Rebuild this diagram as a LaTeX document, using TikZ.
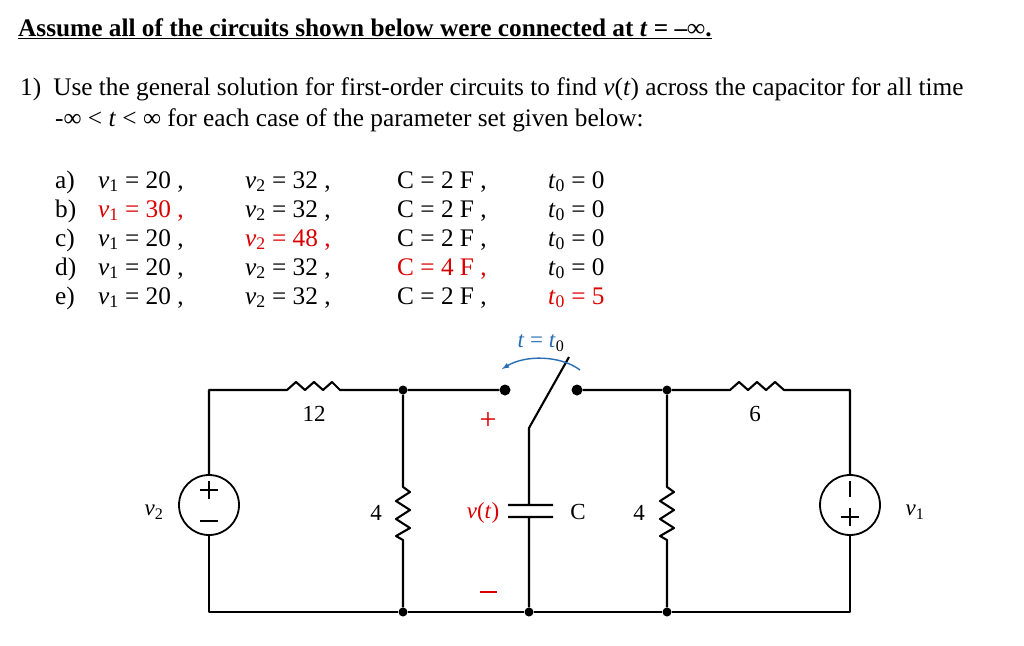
\documentclass[tikz,border=0pt]{standalone}
\usepackage{fontspec}
\setmainfont{Liberation Serif}
\begin{document}
\begin{tikzpicture}[x=1pt,y=-1pt,
  wire/.style={line width=2.1pt,line join=round},
  dotn/.style={circle,fill,inner sep=0pt,minimum size=9pt},
  txt/.style={inner sep=0pt,anchor=base west,font=\fontsize{25.3}{28}\selectfont},
  lab/.style={inner sep=0pt,font=\fontsize{23}{26}\selectfont},
  red/.style={text=red!85!black}]
\useasboundingbox (0,0) rectangle (1024,645);
\definecolor{sw}{RGB}{40,110,180}
% text
\node[txt,font=\fontsize{25.3}{28}\bfseries] (title) at (18,36) {\underline{Assume all of the circuits shown below were connected at \textit{t} = –∞.}};
\node[txt] (l1) at (20,95) {1)\hspace{12pt}Use the general solution for first-order circuits to find \textit{v}(\textit{t}) across the capacitor for all time};
\node[txt] (l2) at (55,126) {-∞ < \textit{t} < ∞ for each case of the parameter set given below:};
\newcommand{\vv}[1]{\textit{v}\textsubscript{#1}}
\newcommand{\tz}{\textit{t}\textsubscript{0}}
\foreach \r/\y in {a)/188,b)/217,c)/246,d)/275,e)/304}{\node[txt] at (55,\y) {\r};}
\node[txt] at (98,188) {\vv{1} = 20 ,};
\node[txt,red] at (98,217) {\vv{1} = 30 ,};
\node[txt] at (98,246) {\vv{1} = 20 ,};
\node[txt] at (98,275) {\vv{1} = 20 ,};
\node[txt] at (98,304) {\vv{1} = 20 ,};
\node[txt] at (245,188) {\vv{2} = 32 ,};
\node[txt] at (245,217) {\vv{2} = 32 ,};
\node[txt,red] at (245,246) {\vv{2} = 48 ,};
\node[txt] at (245,275) {\vv{2} = 32 ,};
\node[txt] at (245,304) {\vv{2} = 32 ,};
\node[txt] at (397,188) {C = 2 F ,};
\node[txt] at (397,217) {C = 2 F ,};
\node[txt] at (397,246) {C = 2 F ,};
\node[txt,red] at (397,275) {C = 4 F ,};
\node[txt] at (397,304) {C = 2 F ,};
\node[txt] at (548,188) {\tz{} = 0};
\node[txt] at (548,217) {\tz{} = 0};
\node[txt] at (548,246) {\tz{} = 0};
\node[txt] at (548,275) {\tz{} = 0};
\node[txt,red] at (548,304) {\tz{} = 5};
% coordinates
\coordinate (tl) at (209,390); \coordinate (bl) at (209,612);
\node[dotn] (n1) at (403,390) {}; \node[dotn] (n1b) at (403,612) {};
\node[dotn,minimum size=11pt] (sa) at (505,390) {}; \node[dotn,minimum size=11pt] (sb) at (577,390) {};
\node[dotn] (n2b) at (529,612) {};
\node[dotn] (n3) at (667,390) {}; \node[dotn] (n3b) at (667,612) {};
\coordinate (tr) at (850,390); \coordinate (br) at (850,612);
% left source
\node[draw,circle,line width=1.8pt,minimum size=60pt,inner sep=0pt] (s2) at (209,505) {};
\draw[line width=1.6pt] (209,481)--(209,499) (200,490)--(218,490) (200,521)--(218,521);
\node[lab] at (154,512) {\vv{2}};
% right source
\node[draw,circle,line width=1.8pt,minimum size=60pt,inner sep=0pt] (s1) at (850,505) {};
\draw[line width=1.6pt] (850,481)--(850,497) (841,517)--(859,517) (850,508)--(850,526);
\node[lab] at (915,512) {\vv{1}};
% wires
\draw[wire] (s2.north)--(tl)--(287,390)--(296,382)--(305,390)--(314,382)--(323,390)--(332,382)--(340,390)--(n1)--(sa);
\draw[wire] (s2.south)--(bl)--(n1b)--(n2b)--(n3b)--(br)--(s1.south);
\draw[wire] (n1)--(403,487)--(410,492)--(396,501)--(410,510)--(396,519)--(410,528)--(396,536)--(403,540)--(n1b);
\draw[wire] (n3)--(667,487)--(674,492)--(660,501)--(674,510)--(660,519)--(674,528)--(660,536)--(667,540)--(n3b);
\draw[wire] (sb)--(n3)--(730,390)--(739,382)--(748,390)--(757,382)--(766,390)--(775,382)--(784,390)--(tr)--(s1.north);
\node[lab] at (314,414) {12};
\node[lab] at (755,414) {6};
\node[lab] at (376,513) {4};
\node[lab] at (639,513) {4};
% switch and capacitor
\draw[wire] (n2b)--(529,517) (508,517)--(553,517) (508,505)--(553,505) (529,505)--(529,428)--(569,357);
\node[lab,red] at (483,513) {\textit{v}(\textit{t})};
\node[lab] at (578,512) {C};
\node[lab,text=red!85!black,font=\fontsize{30}{32}\selectfont] at (488,421) {+};
\draw[red!85!black,line width=2pt] (480,592)--(497,592);
\node[lab,text=sw] at (541,343) {\textit{t} = \textit{t}\textsubscript{\color{black}0}};
\draw[sw,line width=1.4pt,-latex] (580,370) .. controls (560,355) and (525,355) .. (502,369);
\end{tikzpicture}
\end{document}
